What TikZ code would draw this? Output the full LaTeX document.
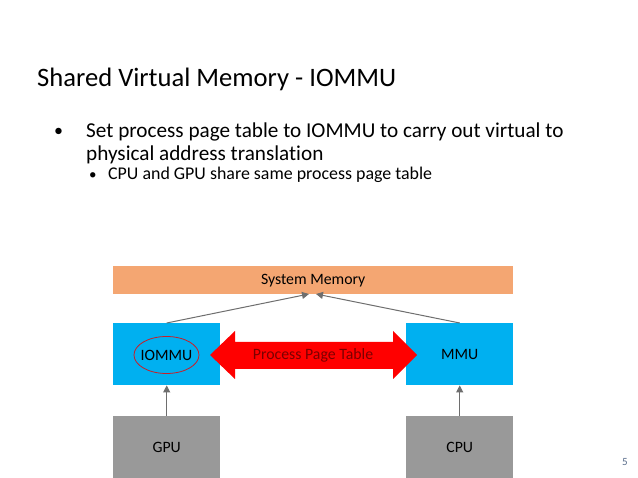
\documentclass[tikz,border=0pt]{standalone}
\usepackage{fontspec}
\setmainfont{Carlito}[Ligatures={NoCommon}]
\usetikzlibrary{arrows.meta}
\definecolor{salmon}{HTML}{F4A672}
\definecolor{cyanbox}{HTML}{00B0F0}
\definecolor{graybox}{HTML}{999999}
\definecolor{arrowgray}{HTML}{6E6E6E}
\definecolor{darkred}{HTML}{7A0000}
\definecolor{pagenum}{HTML}{5A6E8C}
\tikzset{
  box/.style={draw=none, inner sep=0pt, anchor=north west, font=\fontsize{15.8}{18}\selectfont, text=black},
  conn/.style={draw=arrowgray, line width=1pt, -{Triangle[length=7pt,width=7pt]}},
  txt/.style={inner sep=0pt, anchor=base west, text=black}
}
\begin{document}
\begin{tikzpicture}[x=1pt,y=-1pt]
\useasboundingbox[fill=white] (0,0) rectangle (638,478);
% title and bullets
\node[txt, font=\fontsize{26.6}{30}\selectfont] (title) at (37,87) {Shared Virtual Memory - IOMMU};
\node[txt, font=\fontsize{18}{22}\selectfont] (b1) at (54,137) {•};
\node[txt, font=\fontsize{21.2}{25}\selectfont] (t1) at (86,138) {Set process page table to IOMMU to carry out virtual to};
\node[txt, font=\fontsize{21.2}{25}\selectfont] (t2) at (86,161) {physical address translation};
\node[txt, font=\fontsize{15}{19}\selectfont] (b2) at (89,180) {•};
\node[txt, font=\fontsize{17.9}{21}\selectfont] (t3) at (108,180) {CPU and GPU share same process page table};
% boxes
\node[box, fill=salmon, minimum width=400pt, minimum height=28pt] (sysmem) at (113,266) {System Memory};
\node[box, fill=cyanbox, minimum width=107pt, minimum height=62pt] (iommu) at (113,323) {};
\node[box, fill=cyanbox, minimum width=107pt, minimum height=62pt] (mmu) at (406,323) {MMU};
\node[box, fill=graybox, minimum width=107pt, minimum height=63pt] (gpu) at (113,416) {GPU};
\node[box, fill=graybox, minimum width=107pt, minimum height=63pt] (cpu) at (406,416) {CPU};
% red double arrow
\fill[red] (210,355) -- (235,331) -- (235,342) -- (393,342) -- (393,331) -- (417,355)
  -- (393,379) -- (393,369) -- (235,369) -- (235,379) -- cycle;
\node[inner sep=0pt, font=\fontsize{15.8}{18}\selectfont, text=darkred] (ppt) at (313,355) {Process Page Table};
% IOMMU label with ellipse
\node[inner sep=0pt, font=\fontsize{15.8}{18}\selectfont, text=black] (iommulbl) at (166.5,355) {IOMMU};
\draw[draw={rgb,255:red,200;green,30;blue,40}, line width=0.8pt] (iommulbl.center) ellipse [x radius=32.5pt, y radius=18.5pt];
% connectors
\draw[conn] (gpu.north) -- (iommu.south);
\draw[conn] (cpu.north) -- (mmu.south);
\coordinate (smL) at (309,294);
\coordinate (smR) at (316,294);
\draw[conn] (iommu.north) -- (smL);
\draw[conn] (mmu.north) -- (smR);
% page number
\node[inner sep=0pt, font=\fontsize{11}{12}\selectfont, text=pagenum] (pnum) at (625,462) {5};
\end{tikzpicture}
\end{document}
